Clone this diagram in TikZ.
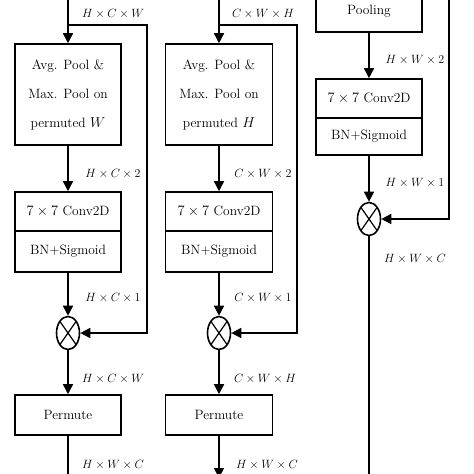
\documentclass[tikz,border=0pt]{standalone}
\usetikzlibrary{shapes.geometric, arrows.meta, positioning}
\begin{document}
\begin{tikzpicture}[x=1pt, y=-1pt]
\tikzset{blk/.style={rectangle, draw, line width=1.6pt, minimum width=106pt, inner sep=0pt, font=\fontsize{13.5}{16}\selectfont, align=center}}
\tikzset{arr/.style={-{Triangle[width=10pt, length=10pt]}, line width=1.6pt}}
\tikzset{ln/.style={line width=1.6pt}}
\tikzset{mul/.style={ellipse, draw, line width=1.6pt, minimum width=23pt, minimum height=33pt, inner sep=0pt,
  path picture={\draw[line width=1.2pt] (path picture bounding box.north west) -- (path picture bounding box.south east)
  (path picture bounding box.north east) -- (path picture bounding box.south west);}}}
\tikzset{dim/.style={font=\fontsize{12.5}{15}\selectfont}}

\clip (0,0) rectangle (474,474);

% branch on W
\node[blk, minimum height=101pt, font=\fontsize{13.5}{29}\selectfont] (pool1) at (68,94.5) {Avg. Pool \&\\Max. Pool on\\permuted $W$};
\node[blk, minimum height=39pt] (conv1) at (68,211.5) {$7\times7$ Conv2D};
\node[blk, minimum height=41pt] (bn1) at (68,251.5) {BN+Sigmoid};
\node[mul] (mul1) at (68,333) {};
\node[blk, minimum height=40pt] (perm1) at (68,415) {Permute};
\coordinate (in1) at (68,0);
\coordinate (split1) at (68,25);
\coordinate (byp1) at (147,333);
\coordinate (out1) at (68,474);
\draw[arr] (in1) -- (pool1);
\draw[arr] (split1) -| (byp1) -- (mul1);
\draw[arr] (pool1) -- (conv1);
\draw[arr] (bn1) -- (mul1);
\draw[arr] (mul1) -- (perm1);
\draw[ln] (perm1) -- (out1);
\node[dim] at (113,14) {$H\times C\times W$};
\node[dim] at (113,174) {$H\times C\times 2$};
\node[dim] at (113,298) {$H\times C\times 1$};
\node[dim] at (113,379) {$H\times C\times W$};
\node[dim] at (113,465) {$H\times W\times C$};

% branch on H
\node[blk, minimum width=107pt, minimum height=101pt, font=\fontsize{13.5}{29}\selectfont] (pool2) at (219,94.5) {Avg. Pool \&\\Max. Pool on\\permuted $H$};
\node[blk, minimum width=107pt, minimum height=39pt] (conv2) at (219,211.5) {$7\times7$ Conv2D};
\node[blk, minimum width=107pt, minimum height=41pt] (bn2) at (219,251.5) {BN+Sigmoid};
\node[mul] (mul2) at (219,333) {};
\node[blk, minimum width=107pt, minimum height=40pt] (perm2) at (219,415) {Permute};
\coordinate (in2) at (219,0);
\coordinate (split2) at (219,25);
\coordinate (byp2) at (297,333);
\coordinate (out2) at (219,478);
\draw[arr] (in2) -- (pool2);
\draw[arr] (split2) -| (byp2) -- (mul2);
\draw[arr] (pool2) -- (conv2);
\draw[arr] (bn2) -- (mul2);
\draw[arr] (mul2) -- (perm2);
\draw[arr] (perm2) -- (out2);
\node[dim] at (263,14) {$C\times W\times H$};
\node[dim] at (263,174) {$C\times W\times 2$};
\node[dim] at (263,298) {$C\times W\times 1$};
\node[dim] at (265,379) {$C\times W\times H$};
\node[dim] at (267,465) {$H\times W\times C$};

% spatial branch
\node[blk, minimum height=42pt] (pool3) at (369,11) {Pooling};
\node[blk, minimum height=39pt] (conv3) at (369,98.5) {$7\times7$ Conv2D};
\node[blk, minimum height=37pt] (bn3) at (369,136.5) {BN+Sigmoid};
\node[mul] (mul3) at (369,219) {};
\coordinate (in3) at (449,0);
\coordinate (out3) at (369,474);
\draw[arr] (pool3) -- (conv3);
\draw[arr] (bn3) -- (mul3);
\draw[arr] (in3) |- (mul3);
\draw[ln] (mul3) -- (out3);
\node[dim] at (415,60) {$H\times W\times 2$};
\node[dim] at (415,183) {$H\times W\times 1$};
\node[dim] at (415,259) {$H\times W\times C$};
\end{tikzpicture}
\end{document}
